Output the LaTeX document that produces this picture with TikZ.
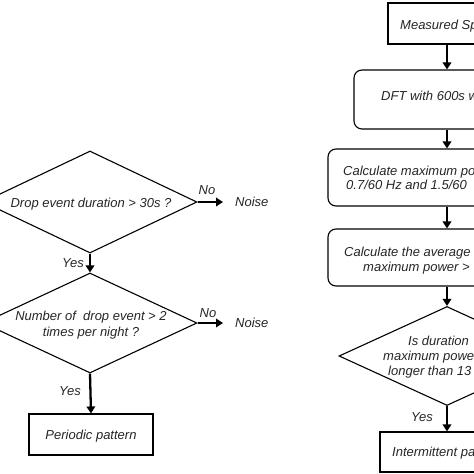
\documentclass[tikz,border=0pt]{standalone}
\usepackage{fontspec}
\setmainfont{Liberation Sans}
\usetikzlibrary{arrows.meta,shapes.geometric}
\begin{document}
\begin{tikzpicture}[x=1pt,y=-1pt,
  txt/.style={font=\fontsize{13}{15}\selectfont\itshape, text=black!85, inner sep=0pt, text height=9.3pt, text depth=0pt},
  lwest/.style={txt, anchor=west},
  dia/.style={draw, diamond, line width=1.1pt, inner sep=0pt},
  boxr/.style={draw, rectangle, line width=1.1pt, inner sep=0pt},
  boxrr/.style={boxr, rounded corners=8pt},
  arr/.style={line width=2.3pt, -{Triangle[length=7pt,width=8.5pt]}},
]
\fill[white] (0,0) rectangle (474,474);
\clip (0,0) rectangle (474,474);
% ---------- left chart ----------
\node[dia, minimum width=214pt, minimum height=102pt] (d1) at (90,202) {};
\node[txt] (t1) at (91,203) {Drop event duration > 30s ?};
\node[lwest] (n1) at (235,202) {Noise};
\draw[arr, shorten >=12pt] (d1.east) -- (n1.west);
\node[txt] (no1) at (207,190) {No};
\node[dia, minimum width=214pt, minimum height=100pt] (d2) at (90,323) {};
\node[txt] (t2a) at (91,316) {Number of\ \ drop event > 2};
\node[txt] (t2b) at (91,332) {times per night ?};
\draw[arr] (d1.south) -- (d2.north);
\node[txt] (y1) at (73,263) {Yes};
\node[lwest] (n2) at (235,323) {Noise};
\draw[arr, shorten >=12pt] (d2.east) -- (n2.west);
\node[txt] (no2) at (208,313) {No};
\node[boxr, minimum width=124pt, minimum height=41pt] (p) at (91,434.5) {};
\node[txt] (pt) at (91,435) {Periodic pattern};
\draw[arr] (d2.south) -- (p.north);
\node[txt] (y2) at (70,391) {Yes};
% ---------- right chart ----------
\node[boxr, minimum width=118pt, minimum height=41pt] (m) at (447,23.5) {};
\node[lwest] (mt) at (400,25) {Measured Sp};
\node[boxrr, minimum width=186pt, minimum height=59pt] (dft) at (447,99.5) {};
\node[lwest] (dftt) at (381,96) {DFT with 600s w};
\draw[arr] (m.south) -- (dft.north);
\node[boxrr, minimum width=238pt, minimum height=57pt] (c1) at (447,177.5) {};
\node[lwest] (c1a) at (343,171) {Calculate maximum po};
\node[lwest] (c1b) at (346,185) {0.7/60 Hz and 1.5/60};
\draw[arr] (dft.south) -- (c1.north);
\node[boxrr, minimum width=238pt, minimum height=57pt] (c2) at (447,257.5) {};
\node[lwest] (c2a) at (344,252) {Calculate the average};
\node[lwest] (c2b) at (363,267) {maximum power >};
\draw[arr] (c1.south) -- (c2.north);
\node[dia, minimum width=216pt, minimum height=99pt] (d3) at (447,356) {};
\node[lwest] (d3a) at (408,341) {Is duration};
\node[lwest] (d3b) at (383,356) {maximum powe};
\node[lwest] (d3c) at (388,371) {longer than 13};
\draw[arr] (c2.south) -- (d3.north);
\node[boxr, minimum width=134pt, minimum height=40pt] (im) at (447,452) {};
\node[lwest] (imt) at (392,452) {Intermittent pa};
\draw[arr] (d3.south) -- (im.north);
\node[txt] (y3) at (422,417) {Yes};
\end{tikzpicture}
\end{document}
